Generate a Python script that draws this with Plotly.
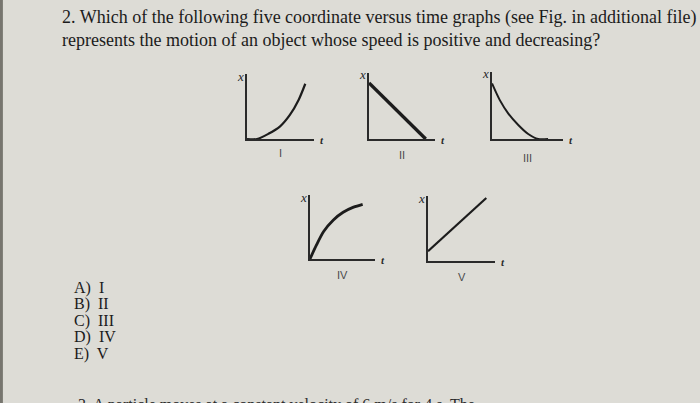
import plotly.graph_objects as go

W, H = 700, 403

# five coordinate (x) versus time (t) sketches
t_1 = [0.0, 0.15, 0.32, 0.49, 0.64, 0.77, 0.87]
x_1 = [0.0, 0.0, 0.08, 0.19, 0.37, 0.60, 0.85]

t_2 = [0.0, 0.86]
x_2 = [0.85, 0.0]

t_3 = [0.0, 0.11, 0.23, 0.37, 0.51, 0.65, 0.79]
x_3 = [0.83, 0.58, 0.38, 0.21, 0.075, 0.0, 0.0]

t_4 = [0.0, 0.10, 0.21, 0.36, 0.51, 0.67, 0.81]
x_4 = [0.0, 0.22, 0.43, 0.61, 0.73, 0.81, 0.855]

t_5 = [0.0, 0.87]
x_5 = [0.15, 0.97]

graph_names = ["I", "II", "III", "IV", "V"]
choices = ["A)  I", "B)  II", "C)  III", "D)  IV", "E)  V"]

question = ("2. Which of the following five coordinate versus time graphs "
            "(see Fig. in additional file)")
question2 = "represents the motion of an object whose speed is positive and decreasing?"
next_q = "3. A particle moves at a constant velocity of 6 m/s for 4 s. The"

# where each little graph sits on the page (left, right, top, bottom in px)
boxes = [
    (247, 314, 74, 139),
    (369, 435, 73, 139),
    (492, 563, 72, 139),
    (310, 375, 195, 259),
    (428, 495, 196, 261),
]
widths = [2.2, 3.4, 2.0, 2.8, 2.2]
numeral_drop = [14, 16, 19, 16, 16]

def px(x):
    return x / W

def py(y):
    return 1 - y / H

series = [(t_1, x_1), (t_2, x_2), (t_3, x_3), (t_4, x_4), (t_5, x_5)]

fig = go.Figure()
layout = {}
annos = []
for i, ((tt, xx), box) in enumerate(zip(series, boxes)):
    n = "" if i == 0 else str(i + 1)
    l, r, top, bot = box
    fig.add_trace(go.Scatter(
        x=tt, y=xx, mode="lines", xaxis="x" + n, yaxis="y" + n,
        line=dict(color="#1c1c1c", width=widths[i], shape="spline", smoothing=0.8),
        hoverinfo="skip", showlegend=False,
    ))
    ax = dict(range=[0, 1], showgrid=False, zeroline=False, showticklabels=False,
              ticks="", showline=True, linecolor="#2a2a2a", linewidth=2,
              fixedrange=True)
    layout["xaxis" + n] = dict(ax, domain=[px(l), px(r)], anchor="y" + n)
    layout["yaxis" + n] = dict(ax, domain=[py(bot), py(top)], anchor="x" + n)
    annos.append(dict(x=px(l - 7), y=py(top + 2), text="<i>x</i>",
                      font=dict(family="Liberation Serif", size=13, color="#2a2a2a")))
    annos.append(dict(x=px(r + 8), y=py(bot + 1), text="<i><b>t</b></i>",
                      font=dict(family="Liberation Serif", size=11, color="#2a2a2a")))
    annos.append(dict(x=px((l + r) / 2), y=py(bot + numeral_drop[i]), text=graph_names[i],
                      font=dict(family="Liberation Sans", size=11, color="#4a4a4a")))

serif = dict(family="Liberation Serif", size=18, color="#1b1b1b")
annos.append(dict(x=px(60), y=py(18), text=question, xanchor="left", font=serif))
annos.append(dict(x=px(60), y=py(40), text=question2, xanchor="left", font=serif))
for k, c in enumerate(choices):
    annos.append(dict(x=px(72), y=py(288 + k * 16.4), text=c, xanchor="left",
                      font=dict(family="Liberation Serif", size=16, color="#1b1b1b")))
annos.append(dict(x=px(76), y=py(394), text=next_q, xanchor="left", yanchor="top",
                  font=dict(family="Liberation Serif", size=16, color="#2a2a2a")))
for a in annos:
    a["xref"] = "paper"
    a["yref"] = "paper"
    a["showarrow"] = False
    a.setdefault("xanchor", "center")
    a.setdefault("yanchor", "middle")

fig.update_layout(
    width=W, height=H,
    margin=dict(l=0, r=0, t=0, b=0),
    paper_bgcolor="#dddcd6",
    plot_bgcolor="rgba(0,0,0,0)",
    annotations=annos,
    shapes=[dict(type="line", xref="paper", yref="paper", x0=0.002, x1=0.002, y0=0, y1=1,
                 line=dict(color="#77766f", width=3))],
    **layout,
)

fig.write_html("out.html", config={"displayModeBar": False},
               post_script="document.body.style.margin='0';")
